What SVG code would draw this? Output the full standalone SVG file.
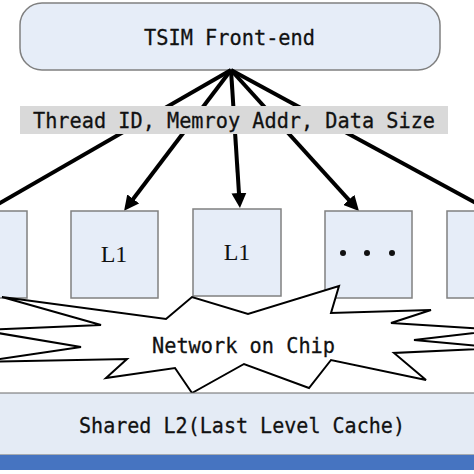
<svg xmlns="http://www.w3.org/2000/svg" width="474" height="474" viewBox="0 0 474 474">
<style>
.box{fill:#e6edf8;stroke:#808080;stroke-width:1.5}
.mono{font-family:"DejaVu Sans Mono","Liberation Mono",monospace;font-size:22px;fill:#111;stroke:#111;stroke-width:0.3}
.serif{font-family:"Liberation Serif","Times New Roman",serif;font-size:24px;fill:#111}
.conn{stroke:#000;stroke-width:4;fill:none}
</style>
<defs>
<marker id="ah" markerUnits="userSpaceOnUse" viewBox="0 0 15 15" markerWidth="15" markerHeight="15" refX="2" refY="7.5" orient="auto">
<path d="M0,0 L15,7.5 L0,15 z" fill="#000"/>
</marker>
</defs>
<rect width="474" height="474" fill="#fff"/>
<g id="frontend">
<rect class="box" x="20" y="3" width="420" height="67" rx="22"/>
<text class="mono" x="144" y="45" textLength="171" lengthAdjust="spacingAndGlyphs">TSIM Front-end</text>
</g>
<g id="connectors">
<line class="conn" x1="231" y1="70" x2="-15" y2="211.6"/>
<line class="conn" x1="231" y1="70" x2="132" y2="200.5" marker-end="url(#ah)"/>
<line class="conn" x1="231" y1="70" x2="239.1" y2="195" marker-end="url(#ah)"/>
<line class="conn" x1="231" y1="70" x2="350.2" y2="201.3" marker-end="url(#ah)"/>
<line class="conn" x1="231" y1="70" x2="490" y2="210.7"/>
</g>
<g id="label">
<rect x="20" y="106" width="428" height="28" fill="#d9d9d9"/>
<text class="mono" x="33" y="128" textLength="402" lengthAdjust="spacingAndGlyphs">Thread ID, Memroy Addr, Data Size</text>
</g>
<g id="l1-left"><rect class="box" x="-20" y="211" width="47" height="87"/></g>
<g id="l1-a"><rect class="box" x="71" y="211" width="87" height="87"/><text class="serif" x="114" y="262" text-anchor="middle">L1</text></g>
<g id="l1-b"><rect class="box" x="193" y="209" width="88" height="87"/><text class="serif" x="237" y="260" text-anchor="middle">L1</text></g>
<g id="l1-dots"><rect class="box" x="325" y="211" width="87" height="87"/>
<circle cx="343" cy="253" r="3" fill="#111"/><circle cx="367" cy="253" r="3" fill="#111"/><circle cx="392" cy="253" r="3" fill="#111"/></g>
<g id="l1-right"><rect class="box" x="447" y="211" width="47" height="87"/></g>
<g id="noc">
<polygon points="2,297 166,319 192,297 248,314 339,286 331,313 431,310 391,323 500,330 414,340 500,348 394,353 426,380 331,360 309,388 244,364 192,393 175,368 106,378 127,359 -20,362 81,347 -20,330 101,325" fill="#fff" stroke="#000" stroke-width="2" stroke-linejoin="miter"/>
<text class="mono" x="152" y="353" textLength="183" lengthAdjust="spacingAndGlyphs">Network on Chip</text>
</g>
<g id="l2">
<rect x="-2" y="393" width="478" height="62" fill="#e4ebf5" stroke="#6b6b6b" stroke-width="1"/>
<rect x="-2" y="455" width="478" height="15" fill="#4674c1"/>
<text class="mono" x="79" y="433" textLength="326" lengthAdjust="spacingAndGlyphs">Shared L2(Last Level Cache)</text>
</g>
</svg>
